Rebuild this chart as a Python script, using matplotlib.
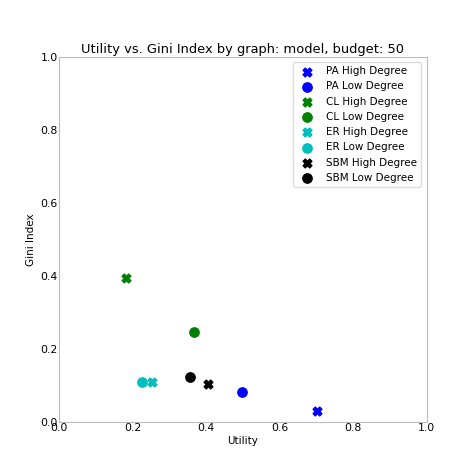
import matplotlib
matplotlib.use("Agg")
import matplotlib.pyplot as plt

# graph models and their (utility, gini) per degree strategy
models = ["PA", "CL", "ER", "SBM"]
colors = ["b", "g", "c", "k"]
high_utility = [0.701, 0.181, 0.252, 0.404]
high_gini = [0.030, 0.395, 0.108, 0.104]
low_utility = [0.498, 0.367, 0.225, 0.357]
low_gini = [0.081, 0.245, 0.110, 0.122]

fig, ax = plt.subplots(figsize=(4.74, 4.74), dpi=100)

for i, model in enumerate(models):
    ax.scatter(high_utility[i], high_gini[i], marker="X", s=40,
               color=colors[i], label=f"{model} High Degree")
    ax.scatter(low_utility[i], low_gini[i], marker="o", s=45,
               color=colors[i], label=f"{model} Low Degree")

ax.set_xlim(0, 1)
ax.set_ylim(0, 1)
ax.set_xlabel("Utility", fontsize=7.5, labelpad=2)
ax.set_ylabel("Gini Index", fontsize=7.5, labelpad=3)
ax.set_title("Utility vs. Gini Index by graph: model, budget: 50",
             fontsize=9.4, pad=3)
ax.tick_params(length=0, pad=1, labelsize=7.8)
for spine in ax.spines.values():
    spine.set_color("#bbbbbb")

ax.legend(loc="upper right", fontsize=7.5, framealpha=1, edgecolor="#dddddd")

fig.subplots_adjust(left=0.125, right=0.9, bottom=0.11, top=0.88)
plt.savefig("out.png", dpi=100)
